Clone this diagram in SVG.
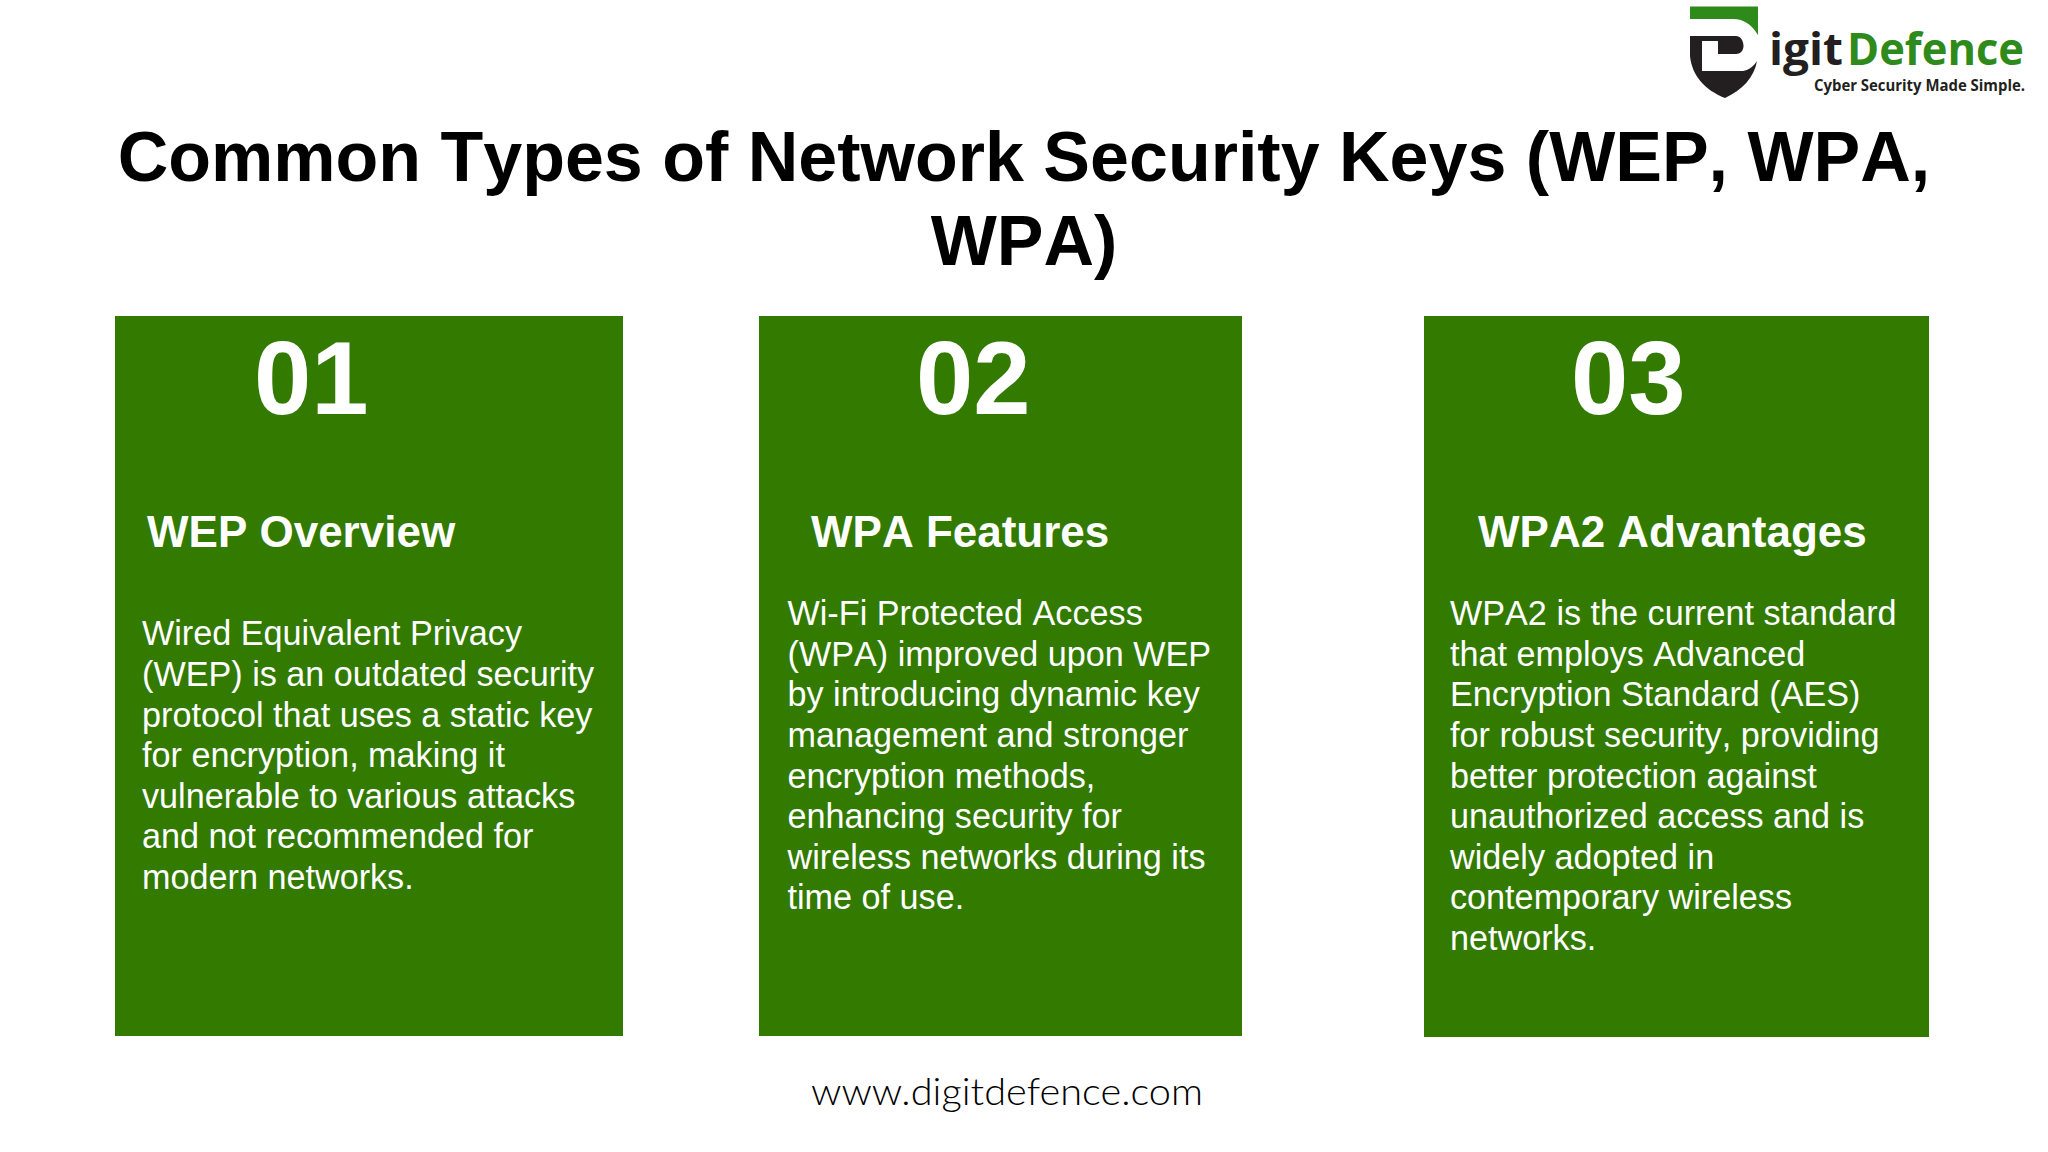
<svg xmlns="http://www.w3.org/2000/svg" width="2048" height="1152" viewBox="0 0 2048 1152">
<style>
.card{fill:#327a00}
.num{font:700 103px "Liberation Sans",Arial,sans-serif;font-kerning:none;fill:#fff}
.head{font:700 44px "Liberation Sans",Arial,sans-serif;font-kerning:none;fill:#fff}
.body{font:400 34.2px "Liberation Sans",Arial,sans-serif;font-kerning:none;fill:#fff}
.title{font:700 70px "Liberation Sans",Arial,sans-serif;font-kerning:none;fill:#000;text-anchor:middle}
</style>
<rect width="2048" height="1152" fill="#fff"/>
<g id="logo">
<path d="M1690 6.500H1758V35C1752 25 1744 19 1733 19H1690Z" fill="#2f8a1c"/>
<path d="M1690 36H1736C1740 36 1743.500 40 1743.500 46C1743.500 51 1740 54 1736 54H1718V41H1702V71H1743C1749 70 1754 66 1757 61C1754 78 1742 90 1725 98C1705 90 1692 76 1690 56Z" fill="#231f20"/>
<text x="1769" y="65" font-family="Open Sans,sans-serif" font-weight="700" font-size="45" fill="#231f20" textLength="74" lengthAdjust="spacingAndGlyphs">igit</text>
<text x="1847" y="65" font-family="Open Sans,sans-serif" font-weight="700" font-size="45" fill="#2f8a1c" textLength="177" lengthAdjust="spacingAndGlyphs">Defence</text>
<text x="1814" y="91" font-family="Open Sans,sans-serif" font-weight="700" font-size="16" fill="#231f20" textLength="211" lengthAdjust="spacingAndGlyphs">Cyber Security Made Simple.</text>
</g>
<g id="title">
<text class="title" x="1024" y="181">Common Types of Network Security Keys (WEP, WPA,</text>
<text class="title" x="1024" y="265">WPA)</text>
</g>
<g id="card1">
<rect class="card" x="115" y="316" width="508" height="720"/>
<text class="num" x="254" y="414">01</text>
<text class="head" x="147" y="547">WEP Overview</text>
<text class="body"><tspan x="142" y="645">Wired Equivalent Privacy</tspan><tspan x="142" y="686">(WEP) is an outdated security</tspan><tspan x="142" y="726.500">protocol that uses a static key</tspan><tspan x="142" y="767">for encryption, making it</tspan><tspan x="142" y="807.500">vulnerable to various attacks</tspan><tspan x="142" y="848">and not recommended for</tspan><tspan x="142" y="888.500">modern networks.</tspan></text>
</g>
<g id="card2">
<rect class="card" x="759" y="316" width="483" height="720"/>
<text class="num" x="916" y="414">02</text>
<text class="head" x="811" y="547">WPA Features</text>
<text class="body"><tspan x="787.500" y="625">Wi-Fi Protected Access</tspan><tspan x="787.500" y="665.500">(WPA) improved upon WEP</tspan><tspan x="787.500" y="706">by introducing dynamic key</tspan><tspan x="787.500" y="746.500">management and stronger</tspan><tspan x="787.500" y="787.500">encryption methods,</tspan><tspan x="787.500" y="828">enhancing security for</tspan><tspan x="787.500" y="868.500">wireless networks during its</tspan><tspan x="787.500" y="909">time of use.</tspan></text>
</g>
<g id="card3">
<rect class="card" x="1424" y="316" width="505" height="721"/>
<text class="num" x="1571" y="414">03</text>
<text class="head" x="1478" y="547">WPA2 Advantages</text>
<text class="body"><tspan x="1450" y="625">WPA2 is the current standard</tspan><tspan x="1450" y="665.500">that employs Advanced</tspan><tspan x="1450" y="706">Encryption Standard (AES)</tspan><tspan x="1450" y="746.500">for robust security, providing</tspan><tspan x="1450" y="787.500">better protection against</tspan><tspan x="1450" y="828">unauthorized access and is</tspan><tspan x="1450" y="868.500">widely adopted in</tspan><tspan x="1450" y="909">contemporary wireless</tspan><tspan x="1450" y="950">networks.</tspan></text>
</g>
<text id="footer" x="811" y="1105" font-family="Lato,sans-serif" font-weight="300" font-size="38" fill="#000" textLength="392" lengthAdjust="spacingAndGlyphs">www.digitdefence.com</text>
</svg>
